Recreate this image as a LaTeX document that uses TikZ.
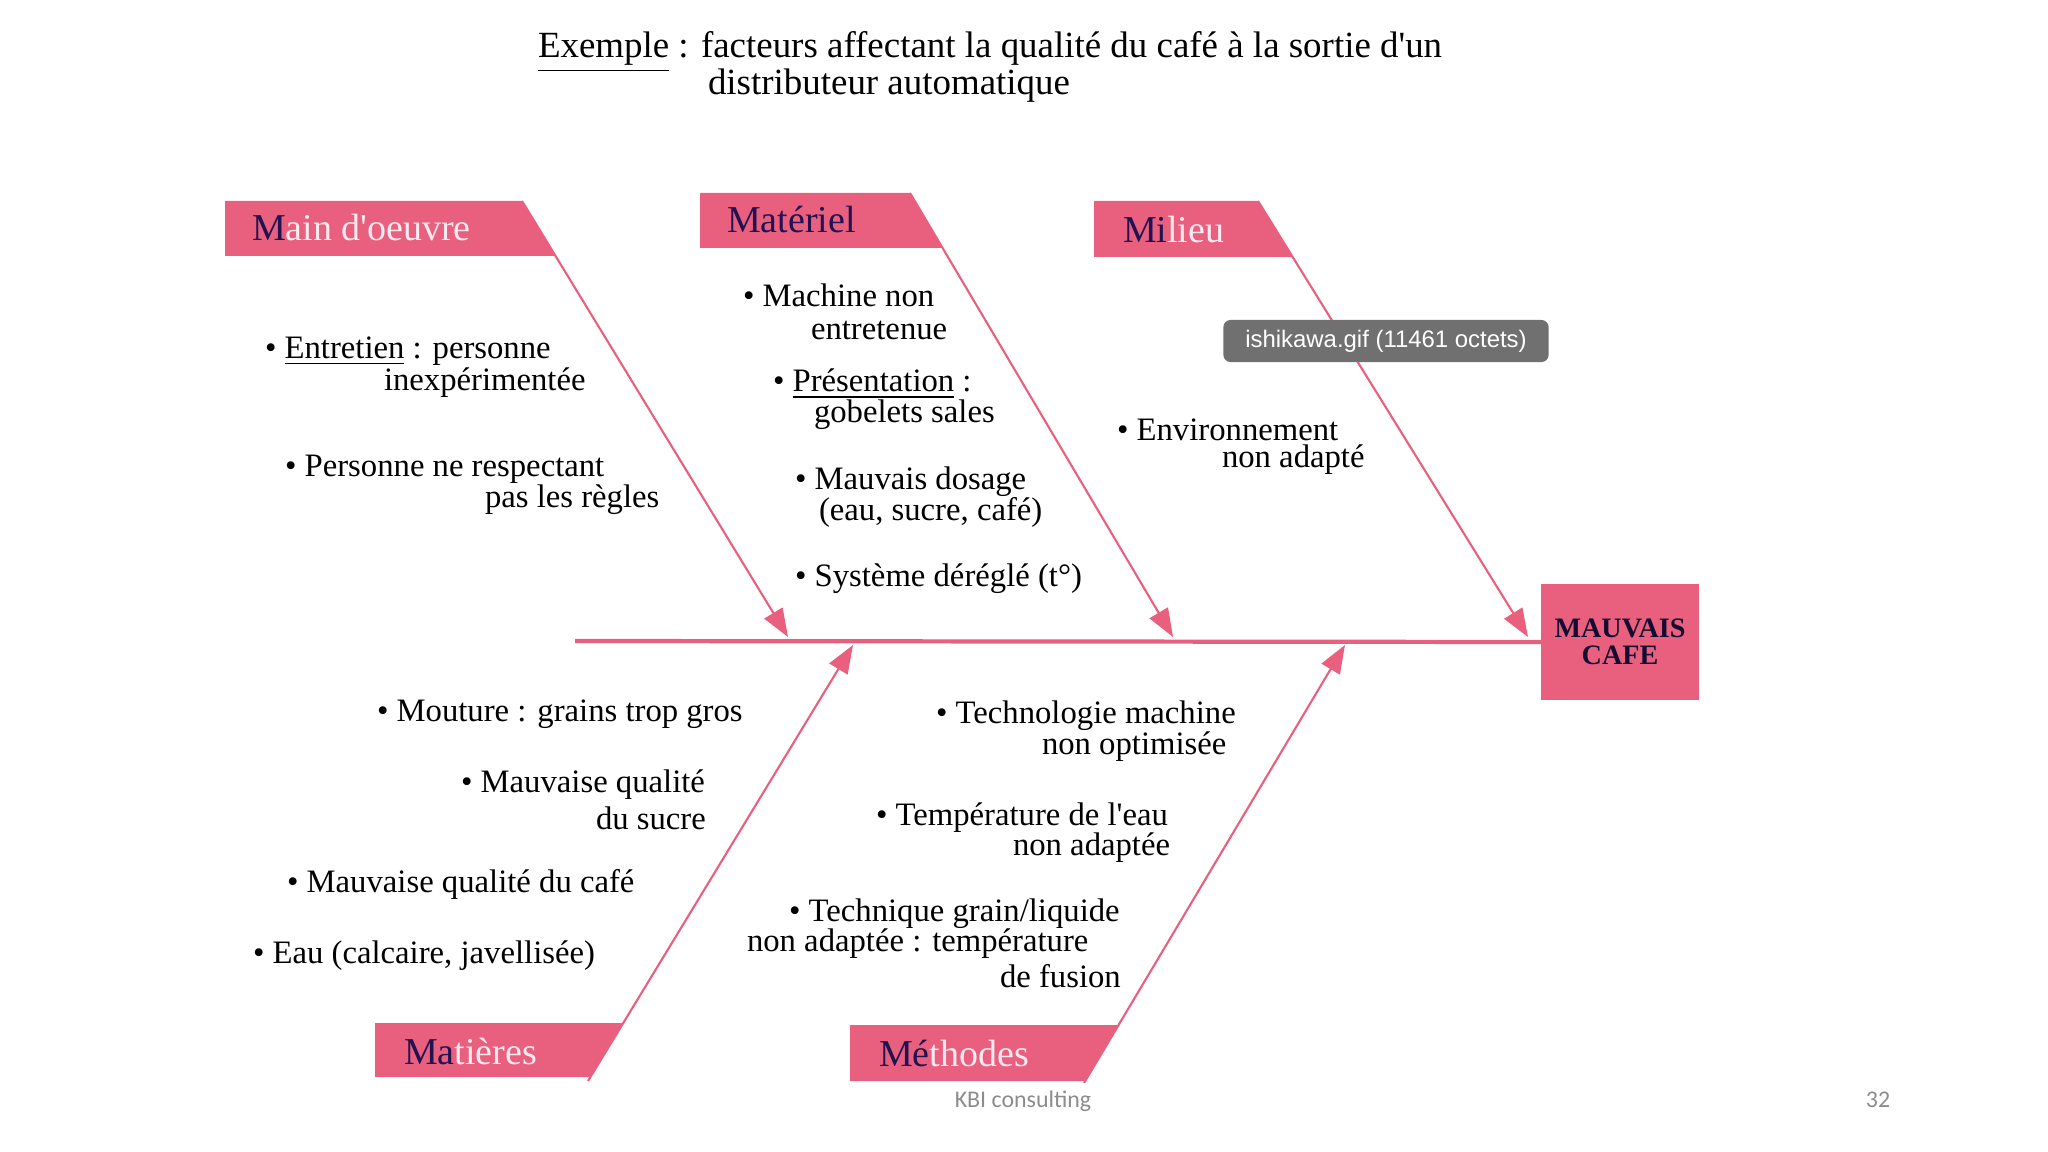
\documentclass[tikz,border=0pt]{standalone}
\usepackage{fontspec}
\setmainfont{Liberation Serif}
\newfontfamily\footfont{Carlito}
\newfontfamily\tipfont{Liberation Sans}
\definecolor{ishiPink}{RGB}{233, 96, 127}
\definecolor{ishiInk}{RGB}{34, 18, 82}
\definecolor{ishiLight}{RGB}{252, 234, 240}
\definecolor{tipGray}{RGB}{112, 112, 112}
\definecolor{footGray}{RGB}{140, 140, 140}
\newcommand{\apos}{\textquotesingle}
\usetikzlibrary{arrows.meta, positioning}

\begin{document}
\begin{tikzpicture}[
                x=0.01cm, y=-0.01cm,
                every node/.style={inner sep=0pt, outer sep=0pt},
                titre/.style={anchor=west, font=\fontsize{10.5}{12}\selectfont},
                cause/.style={anchor=west, font=\fontsize{9.3}{11}\selectfont},
                header/.style={anchor=west, font=\fontsize{10.8}{13}\selectfont, text=ishiLight},
                bone/.style={draw=ishiPink, line width=0.6pt, -{Triangle[length=8pt, width=6pt]}},
                spine/.style={draw=ishiPink, line width=1.2pt},
                effet/.style={fill=ishiPink, minimum width=1.57cm, minimum height=1.16cm, align=center, font=\bfseries\fontsize{8}{7.7}\selectfont, text=ishiInk!60!black},
                bulle/.style={fill=tipGray, rounded corners=2pt, minimum width=3.25cm, minimum height=0.42cm, text=white, font=\tipfont\fontsize{6.8}{8}\selectfont},
                pied/.style={text=footGray, font=\footfont\fontsize{6.8}{8}\selectfont}
            ]
                \useasboundingbox (0,0) rectangle (2048,1152);

                \node[titre] (titre1) at (538,52) {\underline{Exemple} : facteurs affectant la qualité du café à la sortie d\apos un};
                \node[titre] (titre2) at (708,86) {distributeur automatique};

                \coordinate (mo-top) at (522,201);
                \coordinate (mo-tip) at (788,637);
                \coordinate (mat-top) at (910,193);
                \coordinate (mat-tip) at (1173,637);
                \coordinate (mil-top) at (1258,201);
                \coordinate (mil-tip) at (1528,637);
                \coordinate (mp-bot) at (588,1081);
                \coordinate (mp-tip) at (853,645);
                \coordinate (me-bot) at (1084,1083);
                \coordinate (me-tip) at (1345,645);
                \coordinate (spine-start) at (575,641);

                \fill[ishiPink] (225,201) -- (mo-top) -- (555,256) -- (225,256) -- cycle;
                \fill[ishiPink] (700,193) -- (mat-top) -- (943,248) -- (700,248) -- cycle;
                \fill[ishiPink] (1094,201) -- (mil-top) -- (1293,257) -- (1094,257) -- cycle;
                \fill[ishiPink] (375,1023) -- (623,1023) -- (590,1077) -- (375,1077) -- cycle;
                \fill[ishiPink] (850,1025) -- (1119,1025) -- (1085,1081) -- (850,1081) -- cycle;

                \node[header] (mo-label) at (252,228) {\textcolor{ishiInk}{M}ain d\apos oeuvre};
                \node[header, text=ishiInk] (mat-label) at (727,219) {Matériel};
                \node[header] (mil-label) at (1123,230) {\textcolor{ishiInk}{Mi}lieu};
                \node[header] (mp-label) at (404,1051) {\textcolor{ishiInk}{Ma}tières};
                \node[header] (me-label) at (879,1053) {\textcolor{ishiInk}{Mé}thodes};

                \node[effet] (effet) at (1620,642) {MAUVAIS\\CAFE};
                \draw[spine] (spine-start) -- (effet.west);

                \draw[bone] (mo-top) -- (mo-tip);
                \draw[bone] (mat-top) -- (mat-tip);
                \draw[bone] (mil-top) -- (mil-tip);
                \draw[bone] (mp-bot) -- (mp-tip);
                \draw[bone] (me-bot) -- (me-tip);

                \node[cause] (mo-c1) at (265,351) {\textbullet\ \underline{Entretien} : personne};
                \node[cause] (mo-c1b) at (384,383) {inexpérimentée};
                \node[cause] (mo-c2) at (285,469) {\textbullet\ Personne ne respectant};
                \node[cause] (mo-c2b) at (485,500) {pas les règles};

                \node[cause] (mat-c1) at (743,295) {\textbullet\ Machine non};
                \node[cause] (mat-c1b) at (811,330) {entretenue};
                \node[cause] (mat-c2) at (773,384) {\textbullet\ \underline{Présentation} :};
                \node[cause] (mat-c2b) at (814,415) {gobelets sales};
                \node[cause] (mat-c3) at (795,482) {\textbullet\ Mauvais dosage};
                \node[cause] (mat-c3b) at (819,512) {(eau, sucre, café)};
                \node[cause] (mat-c4) at (795,579) {\textbullet\ Système déréglé (t°)};

                \node[cause] (mil-c1) at (1117,430) {\textbullet\ Environnement};
                \node[cause] (mil-c1b) at (1222,460) {non adapté};

                \node[cause] (mp-c1) at (377,714) {\textbullet\ Mouture : grains trop gros};
                \node[cause] (mp-c2) at (461,785) {\textbullet\ Mauvaise qualité};
                \node[cause] (mp-c2b) at (596,818) {du sucre};
                \node[cause] (mp-c3) at (287,884) {\textbullet\ Mauvaise qualité du café};
                \node[cause] (mp-c4) at (253,956) {\textbullet\ Eau (calcaire, javellisée)};

                \node[cause] (me-c1) at (936,716) {\textbullet\ Technologie machine};
                \node[cause] (me-c1b) at (1042,747) {non optimisée};
                \node[cause] (me-c2) at (876,818) {\textbullet\ Température de l\apos eau};
                \node[cause] (me-c2b) at (1013,848) {non adaptée};
                \node[cause] (me-c3) at (789,914) {\textbullet\ Technique grain/liquide};
                \node[cause] (me-c3b) at (747,944) {non adaptée : température};
                \node[cause] (me-c3c) at (1000,976) {de fusion};

                \node[bulle] (bulle) at (1386,341) {ishikawa.gif (11461 octets)};

                \node[pied] (pied) at (1023,1101) {KBI consulting};
                \node[pied] (page) at (1878,1100) {32};
            \end{tikzpicture}
\end{document}
